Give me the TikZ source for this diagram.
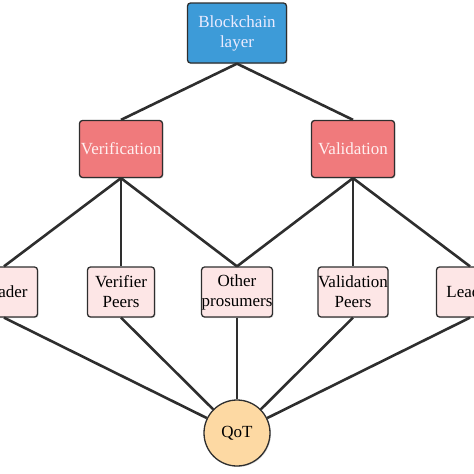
\documentclass[tikz,border=0pt]{standalone}
\usepackage{fontspec}
\setmainfont{Liberation Serif}
\usetikzlibrary{shadows}

\definecolor{chainblue}{HTML}{3D9BD8}
\definecolor{checkred}{HTML}{F07A7C}
\definecolor{peerpink}{HTML}{FDE6E6}
\definecolor{qotpeach}{HTML}{FDD9A3}
\definecolor{edgegray}{HTML}{2E2E2E}

\begin{document}
\begin{tikzpicture}[x=1pt,y=-1pt,
    box/.style={draw=edgegray, line width=1.3pt, rounded corners=3pt, align=center,
                font=\fontsize{17}{20}\selectfont, inner sep=0pt,
                drop shadow={opacity=0.25, shadow xshift=1pt, shadow yshift=-1pt}},
    layerbox/.style={box, fill=chainblue, text=white!92!blue, minimum width=99pt, minimum height=60pt},
    checkbox/.style={box, fill=checkred, text=white!94!red, minimum width=83pt, minimum height=57pt},
    peerbox/.style={box, fill=peerpink, text=black, minimum width=67pt, minimum height=50pt},
    link/.style={draw=edgegray, line width=2.6pt}]

    \useasboundingbox (0,0) rectangle (474,474);
    \clip (0,0) rectangle (474,474);

    \def \rowy {292} % centre of the lower row

    \node[layerbox] at (237,33) (bc) {Blockchain\\layer};
    \node[checkbox] at (121,149) (verif) {Verification};
    \node[checkbox] at (353,149) (valid) {Validation};

    \foreach \s/\xx/\txt in {leadL/4/Leader, vpeer/121/Verifier\\Peers, other/237/Other\\prosumers,
                             vapeer/353/Validation\\Peers, leadR/470/Leader}
    {
        \node[peerbox] at (\xx,\rowy) (\s) {\txt};
    }

    \node[box, circle, fill=qotpeach, text=black, minimum size=66pt] at (237,433) (qot) {QoT};

    % upper links
    \foreach \a/\b in {bc/verif, bc/valid, verif/leadL, verif/vpeer, verif/other,
                       valid/other, valid/vapeer, valid/leadR}
    {
        \path[link] (\a.south) -- (\b.north);
    }

    % links down to QoT
    \foreach \a in {leadL, vpeer, other, vapeer, leadR}
    {
        \path[link] (\a.south) -- (qot);
    }

\end{tikzpicture}
\end{document}
